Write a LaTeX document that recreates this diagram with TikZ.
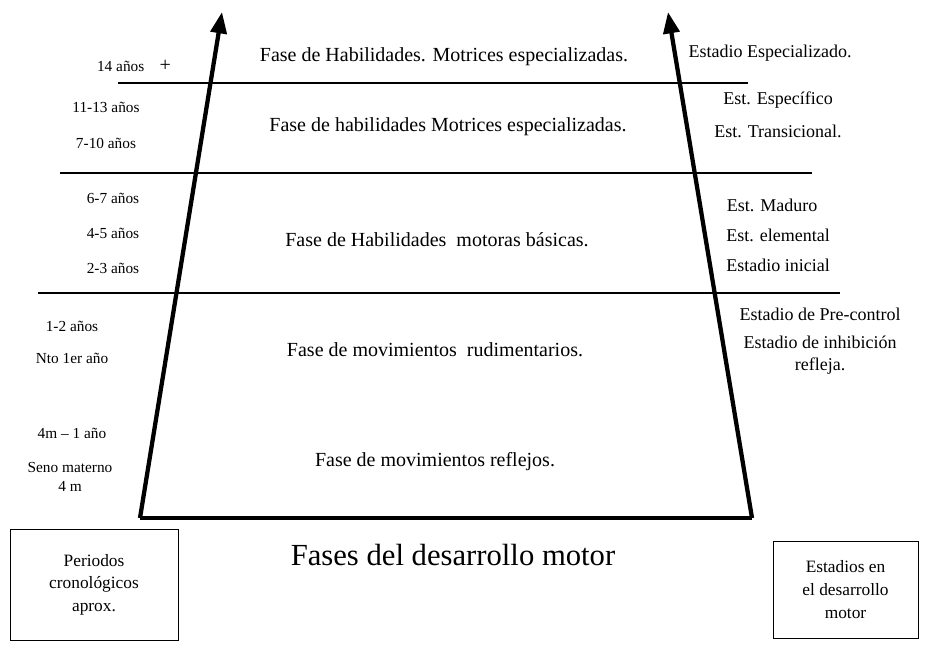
\documentclass[tikz,border=0pt]{standalone}
\usepackage{fontspec}
\setmainfont{Liberation Serif}
\usetikzlibrary{arrows.meta}
\begin{document}
\begin{tikzpicture}[x=0.75pt,y=-0.75pt,
 lbl/.style={font=\fontsize{11.5}{14}\selectfont,align=center,inner sep=1pt},
 ctr/.style={font=\fontsize{15}{18}\selectfont,align=center,inner sep=1pt},
 sml/.style={font=\fontsize{13.5}{17}\selectfont,align=center,inner sep=1pt},
 bx/.style={draw,font=\fontsize{13}{17}\selectfont,align=center},
 hl/.style={line width=2.2pt},
 ar/.style={line width=3.2pt,-{Triangle[length=16pt,width=12pt]}}]
\useasboundingbox (0,0) rectangle (930,650);
\coordinate (bl) at (140,518); \coordinate (br) at (752,518);
\coordinate (tl) at (222,12); \coordinate (tr) at (668,12);
\draw[line width=3.2pt] (bl) -- (br);
\draw[ar] (bl) -- (tl);
\draw[ar] (br) -- (tr);
\coordinate (a1) at (118,83); \coordinate (a2) at (748,83);
\coordinate (b1) at (60,173); \coordinate (b2) at (812,173);
\coordinate (c1) at (38,293); \coordinate (c2) at (840,293);
\draw[hl] (a1)--(a2); \draw[hl] (b1)--(b2); \draw[hl] (c1)--(c2);
\node[lbl] (l1) at (134,66) {14 años\quad \fontsize{15}{18}\selectfont +};
\node[lbl] (l2) at (106,107) {11-13 años};
\node[lbl] (l3) at (106,143) {7-10 años};
\node[lbl] (l4) at (113,198) {6-7 años};
\node[lbl] (l5) at (113,233) {4-5 años};
\node[lbl] (l6) at (113,268) {2-3 años};
\node[lbl] (l7) at (72,326) {1-2 años};
\node[lbl] (l8) at (72,358) {Nto 1er año};
\node[lbl] (l9) at (72,433) {4m – 1 año};
\node[lbl] (l10) at (70,477) {Seno materno\\4 m};
\node[ctr] (c1t) at (444,57) {Fase de Habilidades. Motrices especializadas.};
\node[ctr] (c2t) at (448,127) {Fase de habilidades Motrices especializadas.};
\node[ctr] (c3t) at (437,240) {Fase de Habilidades\ \ motoras básicas.};
\node[ctr] (c4t) at (435,350) {Fase de movimientos\ \ rudimentarios.};
\node[ctr] (c5t) at (435,462) {Fase de movimientos reflejos.};
\node[font=\fontsize{23}{27}\selectfont] (title) at (453,555) {Fases del desarrollo motor};
\node[sml] (r1) at (770,53) {Estadio Especializado.};
\node[sml] (r2) at (778,100) {Est. Específico};
\node[sml] (r3) at (778,131) {Est. Transicional.};
\node[sml] (r4) at (772,205) {Est. Maduro};
\node[sml] (r5) at (778,235) {Est. elemental};
\node[sml] (r6) at (778,265) {Estadio inicial};
\node[sml] (r7) at (820,314) {Estadio de Pre-control};
\node[sml] (r8) at (820,355) {Estadio de inhibición\\refleja.};
\node[bx,minimum width=126pt,minimum height=83pt] (bL) at (94,584.5) {Periodos\\cronológicos\\aprox.};
\node[bx,minimum width=109pt,minimum height=73pt] (bR) at (845.5,589.5) {Estadios en\\el desarrollo\\motor};
\end{tikzpicture}
\end{document}
